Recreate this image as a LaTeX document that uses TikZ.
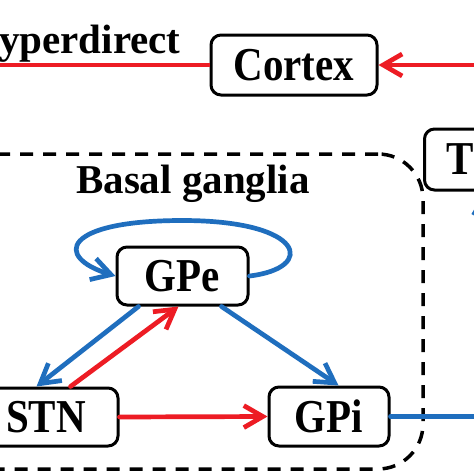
\documentclass[tikz,border=0pt]{standalone}
\usepackage{fontspec}
\usepackage{graphicx}
\setmainfont{Liberation Serif}
\usetikzlibrary{arrows.meta,calc}
\definecolor{ared}{RGB}{237,28,36}
\definecolor{ablue}{RGB}{31,110,190}
\newcommand{\tallbox}[1]{\scalebox{1}[1.15]{#1}}
\begin{document}
\begin{tikzpicture}[x=1pt,y=-1pt,
  box/.style={draw=black, line width=3pt, rounded corners=10pt, fill=white, inner sep=0pt,
    font=\fontsize{41}{41}\selectfont\bfseries},
  lbl/.style={font=\fontsize{41}{41}\selectfont\bfseries, inner sep=0pt},
  redarr/.style={draw=ared, line width=4.7pt, line cap=round, -{Straight Barb[length=19pt,width=22pt]}},
  bluearr/.style={draw=ablue, line width=4.7pt, line cap=round, -{Straight Barb[length=19pt,width=22pt]}},
  redline/.style={draw=ared, line width=4.7pt},
  bgbox/.style={draw=black, line width=3.5pt, dash pattern=on 13pt off 10pt, rounded corners=45pt, inner sep=0pt}]
\useasboundingbox (0,0) rectangle (474,474);
\clip (0,0) rectangle (474,474);
\fill[white] (0,0) rectangle (474,474);
% dashed basal ganglia region
\node[bgbox, minimum width=468pt, minimum height=315pt] (bg) at (189,311.5) {};
% nodes
\node[box, minimum width=166pt, minimum height=60pt] (cortex) at (294,65) {\tallbox{Cortex}};
\node[box, minimum width=131pt, minimum height=58pt] (gpe) at (182.5,276) {\tallbox{GPe}};
\node[box, minimum width=144pt, minimum height=58pt] (stn) at (46,417) {\tallbox{STN}};
\node[box, minimum width=120pt, minimum height=59pt] (gpi) at (329,416.5) {\tallbox{GPi}};
\node[box, anchor=west, minimum width=120pt, minimum height=61pt] (thal) at (423,159.5) {};
\node[lbl, anchor=west] (thaltext) at (446,159.5) {\tallbox{T}};
% labels
\node[lbl, anchor=base west] (hyp) at (-1,53) {yperdirect};
\node[lbl, anchor=base west] (bglabel) at (76,193) {Basal ganglia};
% free ends
\coordinate (rin) at (510,65);
\coordinate (lout) at (-20,65);
% connectors
\draw[redline] (cortex.west) -- (lout);
\draw[redarr] (rin) -- (cortex.east);
\draw[bluearr] ($(gpe.south west)+(23,0)$) -- ($(stn.north west)+(64,0)$);
\draw[redarr] ($(stn.north west)+(98,0)$) -- ($(gpe.south west)+(63,0)$);
\draw[bluearr] ($(gpe.south west)+(106,0)$) -- ($(gpi.north west)+(71,0)$);
\draw[redarr] (stn.east) -- (gpi.west);
\draw[bluearr] (gpi.east) -| (thal.south);
% self loop on GPe
\draw[bluearr] (gpe.east) .. controls +(67,-8) and +(123,0) .. ($(gpe.north)+(0,-25)$)
  .. controls +(-120,0) and +(-62,-19) .. (gpe.west);
\end{tikzpicture}
\end{document}
